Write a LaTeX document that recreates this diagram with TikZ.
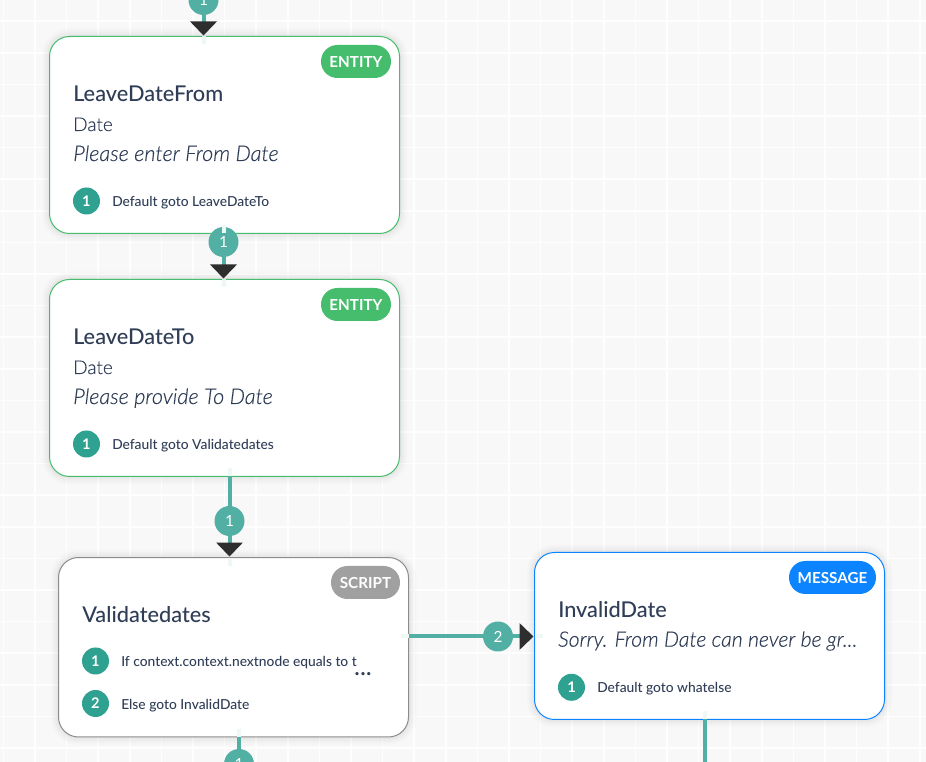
\documentclass[tikz,border=0pt]{standalone}
\usepackage{fontspec}
\setmainfont{Lato}
\newfontfamily\latolight[FakeBold=0.12]{Lato Light}
\newfontfamily\latomed{Lato Medium}
\usetikzlibrary{arrows.meta}
\definecolor{bgc}{HTML}{F8F8F8}
\definecolor{gridc}{HTML}{FEFEFE}
\definecolor{ink}{HTML}{2F3D56}
\definecolor{linkc}{HTML}{52AFA3}
\definecolor{stubc}{HTML}{F0F8F6}
\definecolor{numc}{HTML}{2FA190}
\definecolor{tipc}{HTML}{2E2E2E}
\definecolor{entityc}{HTML}{45BD6C}
\definecolor{scriptc}{HTML}{A0A0A0}
\definecolor{messagec}{HTML}{0D84FF}
\tikzset{
  x=0.75pt,y=-0.75pt,
  card/.style={draw=#1,fill=white,line width=0.75pt,rounded corners=15pt,
    minimum width=262.5pt,outer sep=0pt,inner sep=0pt,
    preaction={draw=black,draw opacity=.012,line width=12pt},
    preaction={draw=black,draw opacity=.014,line width=9pt},
    preaction={draw=black,draw opacity=.018,line width=6pt},
    preaction={draw=black,draw opacity=.025,line width=3pt}},
  tag/.style={fill=#1,text=white,rounded corners=12.3pt,minimum height=24.75pt,
    inner sep=0pt,outer sep=0pt,text height=9.7pt,text depth=0pt,
    font=\fontsize{11.4}{13}\selectfont\bfseries},
  titletext/.style={anchor=base west,inner sep=0pt,text=ink,font=\fontsize{16.3}{18}\selectfont\latomed},
  typetext/.style={anchor=base west,inner sep=0pt,text=ink,font=\fontsize{14.2}{16}\selectfont\latolight},
  prompttext/.style={anchor=base west,inner sep=0pt,text=ink,font=\fontsize{16.2}{18}\selectfont\latolight\itshape},
  ruletext/.style={anchor=base west,inner sep=0pt,text=ink,font=\fontsize{10.35}{12}\selectfont\latomed},
  num/.style={circle,fill=numc,text=white,minimum size=20.25pt,inner sep=0pt,outer sep=0pt,
    font=\fontsize{11}{12}\selectfont\bfseries},
  edgenum/.style={circle,fill=linkc,text=white,minimum size=22.5pt,inner sep=0pt,outer sep=0pt,
    font=\fontsize{11.5}{12}\selectfont},
  link/.style={draw=linkc,line width=3pt},
  tiplink/.style={link,shorten >=0.75pt,-{Triangle[length=10.5pt,width=19.5pt,color=tipc]}},
  stub/.style={draw=stubc,line width=3pt},
}
\begin{document}
\begin{tikzpicture}
\useasboundingbox (0,0) rectangle (926,762);
\fill[bgc] (0,0) rectangle (926,762);
\foreach \k in {0,...,29} \draw[gridc,line width=1.1pt] ({3.4+31.6*\k},0) -- ({3.4+31.6*\k},762);
\foreach \k in {0,...,24} \draw[gridc,line width=1.1pt] (0,{21.2+31.6*\k}) -- (926,{21.2+31.6*\k});

% cards
\node[card=entityc,minimum height=147.75pt] (from) at (224.5,135) {};
\node[card=entityc,minimum height=147.75pt] (to) at (224.5,378) {};
\node[card=black!45,minimum height=134.6pt] (valid) at (233.5,647.25) {};
\node[card=messagec,minimum height=125.25pt] (invalid) at (709.5,636) {};

% card 1
\node[tag=entityc,minimum width=52.5pt] (tagfrom) at (356,61.5) {ENTITY};
\node[titletext] (tfrom) at (73,101.5) {LeaveDateFrom};
\node[typetext] (dfrom) at (73,131) {Date};
\node[prompttext] (pfrom) at (73,161) {Please enter From Date};
\node[num] (nfrom) at (86.5,201) {1};
\node[ruletext] (rfrom) at (112,206.5) {Default goto LeaveDateTo};

% card 2
\node[tag=entityc,minimum width=52.5pt] (tagto) at (356,304.5) {ENTITY};
\node[titletext] (tto) at (73,344.5) {LeaveDateTo};
\node[typetext] (dto) at (73,374) {Date};
\node[prompttext] (pto) at (73,404) {Please provide To Date};
\node[num] (nto) at (86.5,444) {1};
\node[ruletext] (rto) at (112,449.5) {Default goto Validatedates};

% card 3
\node[tag=scriptc,minimum width=51.75pt] (tagvalid) at (365.5,582.5) {SCRIPT};
\node[titletext] (tvalid) at (82,622.5) {Validatedates};
\node[num] (nvalida) at (95.5,661) {1};
\node[ruletext] (rvalida) at (121,667) {If context.context.nextnode equals to t};
\node[anchor=base,inner sep=0pt,text=ink,font=\fontsize{19}{19}\selectfont] (more) at (363,676) {...};
\node[num] (nvalidb) at (95.5,703.5) {2};
\node[ruletext] (rvalidb) at (121,709.5) {Else goto InvalidDate};

% card 4
\node[tag=messagec,minimum width=65.25pt] (taginvalid) at (832.5,577.5) {MESSAGE};
\node[titletext] (tinvalid) at (558,617.5) {InvalidDate};
\node[prompttext,font=\fontsize{15.9}{18}\selectfont\latolight\itshape] (pinvalid) at (558,646.7) {Sorry. From Date can never be gr...};
\node[num] (ninvalid) at (571.5,687.3) {1};
\node[ruletext] (rinvalid) at (597,692.8) {Default goto whatelse};

% edge labels
\node[edgenum] (etop) at (203.5,0) {1};
\node[edgenum] (eone) at (223.5,242) {1};
\node[edgenum] (etwo) at (229.5,521) {1};
\node[edgenum] (ebad) at (498,636.5) {2};
\node[edgenum] (edown) at (239,764) {1};
\coordinate (bottom) at (705,762);

% connectors (lines stop at the rim of the label circles)
\draw[tiplink] (etop) -- (etop |- from.north);
\draw[stub] (etop |- from.north) -- ++(0,8);

\draw[stub] (eone |- from.south) -- ++(0,-8);
\draw[tiplink] (eone) -- (eone |- to.north);
\draw[stub] (eone |- to.north) -- ++(0,8);

\draw[stub] (etwo |- to.south) -- ++(0,-8);
\draw[link] (etwo |- to.south) -- (etwo);
\draw[tiplink] (etwo) -- (etwo |- valid.north);
\draw[stub] (etwo |- valid.north) -- ++(0,8);

\draw[stub] (ebad -| valid.east) -- ++(-8,0);
\draw[link] (ebad -| valid.east) -- (ebad);
\draw[tiplink] (ebad) -- (ebad -| invalid.west);
\draw[stub] (ebad -| invalid.west) -- ++(8,0);

\draw[stub] (edown |- valid.south) -- ++(0,-8);
\draw[link] (edown |- valid.south) -- (edown);

\draw[stub] (bottom |- invalid.south) -- ++(0,-8);
\draw[link] (bottom |- invalid.south) -- (bottom);
\end{tikzpicture}
\end{document}
